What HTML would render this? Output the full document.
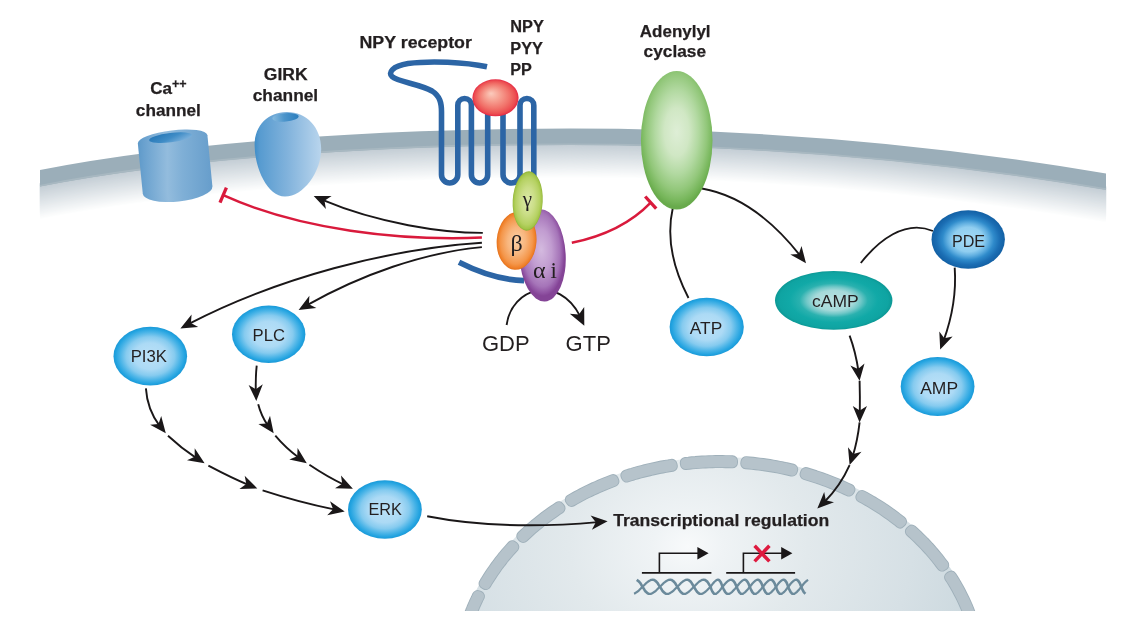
<!DOCTYPE html>
<html lang="en"><head><meta charset="utf-8"><title>NPY receptor signalling</title>
<style>html,body{margin:0;padding:0;background:#fff}svg{display:block;will-change:transform}text{font-family:"Liberation Sans",Arial,Helvetica,sans-serif;fill:#231f20}.b{font-weight:bold;font-size:16.8px;stroke:#231f20;stroke-width:0.25px}.r{font-size:17px}.g{font-family:"Liberation Serif","DejaVu Serif",serif;font-style:normal}</style></head><body>
<svg width="1146" height="634" viewBox="0 0 1146 634">
<defs>
<radialGradient id="gCy" cx="50%" cy="50%" r="50%"><stop offset="0" stop-color="#bbe1f7"/><stop offset="0.45" stop-color="#acdaf5"/><stop offset="0.66" stop-color="#86cbef"/><stop offset="0.82" stop-color="#4ab4e7"/><stop offset="0.94" stop-color="#22a3e0"/><stop offset="1" stop-color="#1c99d7"/></radialGradient>
<radialGradient id="gPde" cx="50%" cy="50%" r="50%"><stop offset="0" stop-color="#a4d8f4"/><stop offset="0.42" stop-color="#90cef0"/><stop offset="0.56" stop-color="#62b0e1"/><stop offset="0.7" stop-color="#2f8bcb"/><stop offset="0.86" stop-color="#1b6eb4"/><stop offset="1" stop-color="#1360a4"/></radialGradient>
<radialGradient id="gCamp" cx="50%" cy="50%" r="50%"><stop offset="0" stop-color="#b9e2e2"/><stop offset="0.34" stop-color="#a6dada"/><stop offset="0.46" stop-color="#72c8c8"/><stop offset="0.58" stop-color="#2ab1af"/><stop offset="0.75" stop-color="#11a9a7"/><stop offset="0.93" stop-color="#0fa4a2"/><stop offset="1" stop-color="#0c9895"/></radialGradient>
<radialGradient id="gAc" cx="50%" cy="44%" r="54%"><stop offset="0" stop-color="#deeed6"/><stop offset="0.32" stop-color="#d0e7c4"/><stop offset="0.56" stop-color="#b2d9a1"/><stop offset="0.78" stop-color="#92c77a"/><stop offset="0.93" stop-color="#76b65a"/><stop offset="1" stop-color="#68aa4c"/></radialGradient>
<radialGradient id="gRed" cx="50%" cy="50%" r="50%" fx="40%" fy="38%"><stop offset="0" stop-color="#fbcbbd"/><stop offset="0.3" stop-color="#f7a596"/><stop offset="0.68" stop-color="#f17169"/><stop offset="0.9" stop-color="#ec4c50"/><stop offset="1" stop-color="#e52a44"/></radialGradient>
<radialGradient id="gGam" cx="50%" cy="50%" r="50%"><stop offset="0" stop-color="#dbe9a8"/><stop offset="0.45" stop-color="#cbde88"/><stop offset="0.8" stop-color="#b5d162"/><stop offset="0.94" stop-color="#a3c548"/><stop offset="1" stop-color="#8eb036"/></radialGradient>
<radialGradient id="gBet" cx="50%" cy="50%" r="50%"><stop offset="0" stop-color="#fbcfa4"/><stop offset="0.45" stop-color="#f8b67e"/><stop offset="0.8" stop-color="#f4964a"/><stop offset="0.94" stop-color="#ef7f28"/><stop offset="1" stop-color="#e2711c"/></radialGradient>
<radialGradient id="gAlp" cx="48%" cy="44%" r="50%"><stop offset="0" stop-color="#d4badf"/><stop offset="0.45" stop-color="#c19cd0"/><stop offset="0.8" stop-color="#a574b8"/><stop offset="0.94" stop-color="#8f52a2"/><stop offset="1" stop-color="#844496"/></radialGradient>
<radialGradient id="gNuc" cx="44%" cy="20%" r="56%"><stop offset="0" stop-color="#f8fafb"/><stop offset="0.12" stop-color="#eff3f5"/><stop offset="0.4" stop-color="#e2e9ec"/><stop offset="0.75" stop-color="#d6e0e5"/><stop offset="1" stop-color="#cbd8de"/></radialGradient>
<linearGradient id="gGirk" x1="0" y1="0" x2="1" y2="0"><stop offset="0" stop-color="#3f8dc8"/><stop offset="0.08" stop-color="#579bd0"/><stop offset="0.5" stop-color="#82b3dc"/><stop offset="1" stop-color="#b9d5ed"/></linearGradient>
<linearGradient id="gCa" gradientUnits="userSpaceOnUse" x1="137" y1="0" x2="213" y2="0"><stop offset="0" stop-color="#5c98c8"/><stop offset="0.1" stop-color="#6ba2cf"/><stop offset="0.4" stop-color="#93bcdd"/><stop offset="0.6" stop-color="#7fafd6"/><stop offset="1" stop-color="#669dcb"/></linearGradient>
<linearGradient id="gPore" x1="0" y1="0" x2="1" y2="0.6"><stop offset="0" stop-color="#1f72b3"/><stop offset="0.6" stop-color="#3f8cc6"/><stop offset="1" stop-color="#77aeda"/></linearGradient>
<linearGradient id="gPore2" x1="0" y1="0" x2="1" y2="0"><stop offset="0" stop-color="#86badf"/><stop offset="0.45" stop-color="#4d95cb"/><stop offset="1" stop-color="#2a7dbd"/></linearGradient>
<clipPath id="cl"><rect x="0" y="0" width="1146" height="611"/></clipPath>
</defs>
<rect width="1146" height="634" fill="#fff"/>
<g fill="none" stroke-width="4">
<path d="M40.0,218.01 A700,119.7 0 0 1 570.0,176.50 A2000,1227 0 0 1 1106.0,221.40" stroke="#ffffff"/>
<path d="M40.0,217.01 A700,119.7 0 0 1 570.0,175.50 A2000,1227 0 0 1 1106.0,220.40" stroke="#fdfefe"/>
<path d="M40.0,216.01 A700,119.7 0 0 1 570.0,174.50 A2000,1227 0 0 1 1106.0,219.40" stroke="#fbfcfc"/>
<path d="M40.0,215.01 A700,119.7 0 0 1 570.0,173.50 A2000,1227 0 0 1 1106.0,218.40" stroke="#fafbfb"/>
<path d="M40.0,214.01 A700,119.7 0 0 1 570.0,172.50 A2000,1227 0 0 1 1106.0,217.40" stroke="#f8f9fa"/>
<path d="M40.0,213.01 A700,119.7 0 0 1 570.0,171.50 A2000,1227 0 0 1 1106.0,216.40" stroke="#f6f8f9"/>
<path d="M40.0,212.01 A700,119.7 0 0 1 570.0,170.50 A2000,1227 0 0 1 1106.0,215.40" stroke="#f4f6f7"/>
<path d="M40.0,211.01 A700,119.7 0 0 1 570.0,169.50 A2000,1227 0 0 1 1106.0,214.40" stroke="#f2f5f6"/>
<path d="M40.0,210.01 A700,119.7 0 0 1 570.0,168.50 A2000,1227 0 0 1 1106.0,213.40" stroke="#f1f3f5"/>
<path d="M40.0,209.01 A700,119.7 0 0 1 570.0,167.50 A2000,1227 0 0 1 1106.0,212.40" stroke="#eff2f4"/>
<path d="M40.0,208.01 A700,119.7 0 0 1 570.0,166.50 A2000,1227 0 0 1 1106.0,211.40" stroke="#edf0f2"/>
<path d="M40.0,207.01 A700,119.7 0 0 1 570.0,165.50 A2000,1227 0 0 1 1106.0,210.40" stroke="#ebeff1"/>
<path d="M40.0,206.01 A700,119.7 0 0 1 570.0,164.50 A2000,1227 0 0 1 1106.0,209.40" stroke="#eaedf0"/>
<path d="M40.0,205.01 A700,119.7 0 0 1 570.0,163.50 A2000,1227 0 0 1 1106.0,208.40" stroke="#e8ecee"/>
<path d="M40.0,204.01 A700,119.7 0 0 1 570.0,162.50 A2000,1227 0 0 1 1106.0,207.40" stroke="#e6eaed"/>
<path d="M40.0,203.01 A700,119.7 0 0 1 570.0,161.50 A2000,1227 0 0 1 1106.0,206.40" stroke="#e4e9ec"/>
<path d="M40.0,202.01 A700,119.7 0 0 1 570.0,160.50 A2000,1227 0 0 1 1106.0,205.40" stroke="#e2e7eb"/>
<path d="M40.0,201.01 A700,119.7 0 0 1 570.0,159.50 A2000,1227 0 0 1 1106.0,204.40" stroke="#e1e6e9"/>
<path d="M40.0,200.01 A700,119.7 0 0 1 570.0,158.50 A2000,1227 0 0 1 1106.0,203.40" stroke="#dfe4e8"/>
<path d="M40.0,199.01 A700,119.7 0 0 1 570.0,157.50 A2000,1227 0 0 1 1106.0,202.40" stroke="#dde3e7"/>
<path d="M40.0,198.01 A700,119.7 0 0 1 570.0,156.50 A2000,1227 0 0 1 1106.0,201.40" stroke="#dbe1e6"/>
<path d="M40.0,197.01 A700,119.7 0 0 1 570.0,155.50 A2000,1227 0 0 1 1106.0,200.40" stroke="#d9e0e4"/>
<path d="M40.0,196.01 A700,119.7 0 0 1 570.0,154.50 A2000,1227 0 0 1 1106.0,199.40" stroke="#d8dee3"/>
<path d="M40.0,195.01 A700,119.7 0 0 1 570.0,153.50 A2000,1227 0 0 1 1106.0,198.40" stroke="#d6dde2"/>
<path d="M40.0,194.01 A700,119.7 0 0 1 570.0,152.50 A2000,1227 0 0 1 1106.0,197.40" stroke="#d4dbe0"/>
<path d="M40.0,193.01 A700,119.7 0 0 1 570.0,151.50 A2000,1227 0 0 1 1106.0,196.40" stroke="#d2dadf"/>
<path d="M40.0,192.01 A700,119.7 0 0 1 570.0,150.50 A2000,1227 0 0 1 1106.0,195.40" stroke="#d1d8de"/>
<path d="M40.0,191.01 A700,119.7 0 0 1 570.0,149.50 A2000,1227 0 0 1 1106.0,194.40" stroke="#cfd7dd"/>
<path d="M40.0,190.01 A700,119.7 0 0 1 570.0,148.50 A2000,1227 0 0 1 1106.0,193.40" stroke="#cdd5db"/>
<path d="M40.0,189.01 A700,119.7 0 0 1 570.0,147.50 A2000,1227 0 0 1 1106.0,192.40" stroke="#cbd4da"/>
<path d="M40.0,188.01 A700,119.7 0 0 1 570.0,146.50 A2000,1227 0 0 1 1106.0,191.40" stroke="#c9d2d9"/>
<path d="M40.0,187.01 A700,119.7 0 0 1 570.0,145.50 A2000,1227 0 0 1 1106.0,190.40" stroke="#c8d1d8"/>
<path d="M40.0,186.01 A700,119.7 0 0 1 570.0,144.50 A2000,1227 0 0 1 1106.0,189.40" stroke="#c6cfd6"/>
<path d="M40.0,185.01 A700,119.7 0 0 1 570.0,143.50 A2000,1227 0 0 1 1106.0,188.40" stroke="#c4ced5"/>
</g>
<path d="M40.0,170.01 A700,119.7 0 0 1 570.0,128.50 A2000,1227 0 0 1 1106.0,173.40 L1106.0,189.80 A2000,1227 0 0 0 570.0,144.90 A700,119.7 0 0 0 40.0,186.41 Z" fill="#9baeb9"/>
<path d="M40.0,185.71 A700,119.7 0 0 1 570.0,144.20 A2000,1227 0 0 1 1106.0,189.10" stroke="#a8b8c1" stroke-width="1.6" fill="none"/>
<g clip-path="url(#cl)">
<ellipse cx="720.0" cy="680.4" rx="266.5" ry="223.5" fill="url(#gNuc)"/>
<path d="M458.4,700.4 L458.1,697.1 L457.8,693.7 L457.6,690.3 L457.4,687.0 L457.3,683.6 L457.3,680.2 L457.3,676.9 L457.4,673.5 L457.6,670.1 L457.8,666.8 L458.1,663.4 L458.4,660.1 L458.8,656.7 L459.3,653.4 L461.1,653.6 L460.6,656.9 L460.2,660.2 L459.9,663.5 L459.6,666.9 L459.4,670.2 L459.2,673.6 L459.1,676.9 L459.1,680.2 L459.1,683.6 L459.2,686.9 L459.4,690.3 L459.6,693.6 L459.9,696.9 L460.2,700.3Z M461.8,639.9 L462.6,636.7 L463.4,633.4 L464.3,630.1 L465.2,626.9 L466.2,623.7 L467.3,620.5 L468.4,617.3 L469.5,614.1 L470.8,611.0 L472.0,607.9 L473.4,604.8 L474.7,601.7 L476.2,598.7 L477.6,595.6 L479.3,596.3 L477.8,599.3 L476.4,602.3 L475.0,605.4 L473.7,608.5 L472.5,611.6 L471.2,614.7 L470.1,617.8 L469.0,621.0 L467.9,624.2 L467.0,627.3 L466.0,630.6 L465.1,633.8 L464.3,637.0 L463.6,640.3Z M484.2,583.6 L485.9,580.7 L487.7,577.9 L489.5,575.0 L491.3,572.2 L493.3,569.4 L495.2,566.7 L497.2,564.0 L499.2,561.3 L501.3,558.7 L503.4,556.0 L505.6,553.4 L507.8,550.9 L510.0,548.4 L512.3,545.9 L513.7,547.0 L511.5,549.4 L509.3,551.9 L507.1,554.5 L504.9,557.0 L502.8,559.6 L500.8,562.3 L498.7,564.9 L496.8,567.6 L494.8,570.4 L492.9,573.1 L491.1,575.9 L489.3,578.7 L487.5,581.5 L485.8,584.4Z M521.9,536.1 L524.3,533.8 L526.8,531.5 L529.3,529.3 L531.8,527.1 L534.4,524.9 L537.0,522.8 L539.7,520.7 L542.3,518.6 L545.0,516.5 L547.7,514.5 L550.4,512.6 L553.2,510.7 L556.0,508.8 L558.8,506.9 L559.9,508.3 L557.1,510.2 L554.4,512.1 L551.6,514.0 L548.9,515.9 L546.2,517.9 L543.5,519.9 L540.9,522.0 L538.3,524.1 L535.7,526.2 L533.1,528.3 L530.6,530.5 L528.1,532.8 L525.7,535.0 L523.2,537.3Z M570.4,499.8 L573.4,498.1 L576.3,496.5 L579.3,494.9 L582.3,493.3 L585.3,491.8 L588.3,490.3 L591.3,488.9 L594.4,487.4 L597.5,486.1 L600.6,484.7 L603.7,483.4 L606.8,482.1 L609.9,480.9 L613.1,479.7 L613.8,481.4 L610.7,482.6 L607.6,483.8 L604.5,485.0 L601.4,486.3 L598.3,487.7 L595.3,489.0 L592.2,490.4 L589.2,491.9 L586.2,493.3 L583.2,494.8 L580.3,496.4 L577.3,498.0 L574.4,499.6 L571.5,501.3Z M626.0,475.3 L629.2,474.2 L632.4,473.3 L635.6,472.3 L638.9,471.4 L642.1,470.6 L645.4,469.7 L648.7,468.9 L652.0,468.2 L655.3,467.5 L658.6,466.8 L661.9,466.1 L665.2,465.5 L668.5,465.0 L671.8,464.4 L672.2,466.2 L668.9,466.7 L665.6,467.3 L662.3,467.9 L659.0,468.5 L655.7,469.2 L652.4,469.9 L649.2,470.7 L645.9,471.5 L642.7,472.3 L639.4,473.1 L636.2,474.0 L633.0,475.0 L629.8,475.9 L626.6,476.9Z M685.4,462.6 L688.7,462.3 L692.1,461.9 L695.4,461.7 L698.8,461.4 L702.1,461.2 L705.5,461.0 L708.9,460.9 L712.2,460.8 L715.6,460.7 L719.0,460.7 L722.3,460.7 L725.7,460.8 L729.1,460.8 L732.4,460.9 L732.4,462.7 L729.0,462.6 L725.7,462.6 L722.3,462.5 L719.0,462.5 L715.6,462.5 L712.3,462.6 L708.9,462.7 L705.6,462.8 L702.3,463.0 L698.9,463.2 L695.6,463.5 L692.2,463.7 L688.9,464.1 L685.6,464.4Z M746.1,461.8 L749.4,462.1 L752.8,462.4 L756.1,462.8 L759.5,463.2 L762.8,463.6 L766.1,464.1 L769.5,464.6 L772.8,465.2 L776.1,465.8 L779.4,466.4 L782.7,467.1 L786.0,467.7 L789.3,468.5 L792.6,469.3 L792.1,471.0 L788.8,470.2 L785.6,469.5 L782.3,468.8 L779.0,468.1 L775.7,467.5 L772.4,466.9 L769.1,466.4 L765.8,465.9 L762.5,465.4 L759.2,465.0 L755.9,464.6 L752.5,464.2 L749.2,463.9 L745.9,463.6Z M805.8,472.7 L809.0,473.7 L812.2,474.7 L815.4,475.7 L818.6,476.8 L821.8,477.9 L825.0,479.0 L828.1,480.2 L831.3,481.4 L834.4,482.6 L837.5,483.9 L840.6,485.2 L843.7,486.6 L846.8,488.0 L849.8,489.4 L848.9,491.0 L845.9,489.6 L842.9,488.2 L839.8,486.8 L836.7,485.5 L833.6,484.3 L830.5,483.0 L827.4,481.8 L824.3,480.7 L821.1,479.5 L818.0,478.4 L814.8,477.4 L811.6,476.4 L808.4,475.4 L805.2,474.4Z M862.0,495.6 L865.0,497.2 L867.9,498.8 L870.8,500.5 L873.7,502.2 L876.6,504.0 L879.4,505.8 L882.3,507.6 L885.1,509.5 L887.9,511.4 L890.6,513.3 L893.3,515.3 L896.0,517.3 L898.7,519.4 L901.4,521.5 L900.1,522.8 L897.5,520.7 L894.8,518.7 L892.2,516.7 L889.4,514.7 L886.7,512.8 L883.9,510.9 L881.2,509.0 L878.4,507.2 L875.5,505.4 L872.7,503.7 L869.8,502.0 L866.9,500.3 L864.0,498.7 L861.0,497.1Z M911.8,530.3 L914.3,532.5 L916.8,534.8 L919.2,537.2 L921.6,539.5 L924.0,541.9 L926.3,544.4 L928.6,546.8 L930.8,549.3 L933.1,551.9 L935.2,554.4 L937.4,557.0 L939.5,559.7 L941.5,562.3 L943.6,565.0 L942.0,566.0 L940.0,563.3 L938.0,560.7 L935.9,558.1 L933.8,555.5 L931.6,552.9 L929.4,550.4 L927.1,547.9 L924.9,545.5 L922.6,543.1 L920.2,540.7 L917.8,538.3 L915.4,536.0 L913.0,533.7 L910.5,531.5Z M951.3,576.3 L953.1,579.1 L954.9,582.0 L956.6,584.9 L958.2,587.8 L959.9,590.8 L961.4,593.8 L962.9,596.8 L964.4,599.8 L965.8,602.9 L967.2,606.0 L968.5,609.1 L969.7,612.2 L970.9,615.4 L972.1,618.5 L970.3,619.0 L969.2,615.9 L968.0,612.8 L966.8,609.7 L965.5,606.6 L964.1,603.5 L962.7,600.5 L961.3,597.5 L959.8,594.5 L958.2,591.5 L956.6,588.6 L955.0,585.7 L953.3,582.8 L951.5,579.9 L949.7,577.1Z M976.1,631.6 L977.0,634.8 L977.8,638.1 L978.5,641.4 L979.2,644.7 L979.8,648.0 L980.4,651.3 L980.9,654.7 L981.3,658.0 L981.7,661.4 L982.0,664.7 L982.3,668.1 L982.5,671.4 L982.6,674.8 L982.7,678.2 L980.9,678.2 L980.8,674.8 L980.7,671.5 L980.5,668.2 L980.2,664.8 L979.9,661.5 L979.5,658.2 L979.1,654.9 L978.6,651.6 L978.0,648.3 L977.4,645.0 L976.8,641.7 L976.0,638.4 L975.2,635.2 L974.4,632.0Z M982.3,691.8 L982.1,695.2 L981.8,698.5 L981.4,701.9 L981.0,705.2 L980.5,708.6 L980.0,711.9 L979.4,715.2 L978.7,718.5 L978.0,721.8 L977.2,725.1 L976.4,728.4 L975.5,731.6 L974.5,734.8 L973.5,738.0 L971.8,737.6 L972.8,734.4 L973.7,731.2 L974.6,728.0 L975.4,724.7 L976.2,721.5 L976.9,718.2 L977.6,714.9 L978.2,711.6 L978.7,708.3 L979.2,705.0 L979.6,701.7 L980.0,698.4 L980.3,695.1 L980.5,691.7Z" fill="#9fb0ba" stroke="#9fb0ba" stroke-width="11.2" stroke-linejoin="round"/>
<path d="M458.4,700.4 L458.1,697.1 L457.8,693.7 L457.6,690.3 L457.4,687.0 L457.3,683.6 L457.3,680.2 L457.3,676.9 L457.4,673.5 L457.6,670.1 L457.8,666.8 L458.1,663.4 L458.4,660.1 L458.8,656.7 L459.3,653.4 L461.1,653.6 L460.6,656.9 L460.2,660.2 L459.9,663.5 L459.6,666.9 L459.4,670.2 L459.2,673.6 L459.1,676.9 L459.1,680.2 L459.1,683.6 L459.2,686.9 L459.4,690.3 L459.6,693.6 L459.9,696.9 L460.2,700.3Z M461.8,639.9 L462.6,636.7 L463.4,633.4 L464.3,630.1 L465.2,626.9 L466.2,623.7 L467.3,620.5 L468.4,617.3 L469.5,614.1 L470.8,611.0 L472.0,607.9 L473.4,604.8 L474.7,601.7 L476.2,598.7 L477.6,595.6 L479.3,596.3 L477.8,599.3 L476.4,602.3 L475.0,605.4 L473.7,608.5 L472.5,611.6 L471.2,614.7 L470.1,617.8 L469.0,621.0 L467.9,624.2 L467.0,627.3 L466.0,630.6 L465.1,633.8 L464.3,637.0 L463.6,640.3Z M484.2,583.6 L485.9,580.7 L487.7,577.9 L489.5,575.0 L491.3,572.2 L493.3,569.4 L495.2,566.7 L497.2,564.0 L499.2,561.3 L501.3,558.7 L503.4,556.0 L505.6,553.4 L507.8,550.9 L510.0,548.4 L512.3,545.9 L513.7,547.0 L511.5,549.4 L509.3,551.9 L507.1,554.5 L504.9,557.0 L502.8,559.6 L500.8,562.3 L498.7,564.9 L496.8,567.6 L494.8,570.4 L492.9,573.1 L491.1,575.9 L489.3,578.7 L487.5,581.5 L485.8,584.4Z M521.9,536.1 L524.3,533.8 L526.8,531.5 L529.3,529.3 L531.8,527.1 L534.4,524.9 L537.0,522.8 L539.7,520.7 L542.3,518.6 L545.0,516.5 L547.7,514.5 L550.4,512.6 L553.2,510.7 L556.0,508.8 L558.8,506.9 L559.9,508.3 L557.1,510.2 L554.4,512.1 L551.6,514.0 L548.9,515.9 L546.2,517.9 L543.5,519.9 L540.9,522.0 L538.3,524.1 L535.7,526.2 L533.1,528.3 L530.6,530.5 L528.1,532.8 L525.7,535.0 L523.2,537.3Z M570.4,499.8 L573.4,498.1 L576.3,496.5 L579.3,494.9 L582.3,493.3 L585.3,491.8 L588.3,490.3 L591.3,488.9 L594.4,487.4 L597.5,486.1 L600.6,484.7 L603.7,483.4 L606.8,482.1 L609.9,480.9 L613.1,479.7 L613.8,481.4 L610.7,482.6 L607.6,483.8 L604.5,485.0 L601.4,486.3 L598.3,487.7 L595.3,489.0 L592.2,490.4 L589.2,491.9 L586.2,493.3 L583.2,494.8 L580.3,496.4 L577.3,498.0 L574.4,499.6 L571.5,501.3Z M626.0,475.3 L629.2,474.2 L632.4,473.3 L635.6,472.3 L638.9,471.4 L642.1,470.6 L645.4,469.7 L648.7,468.9 L652.0,468.2 L655.3,467.5 L658.6,466.8 L661.9,466.1 L665.2,465.5 L668.5,465.0 L671.8,464.4 L672.2,466.2 L668.9,466.7 L665.6,467.3 L662.3,467.9 L659.0,468.5 L655.7,469.2 L652.4,469.9 L649.2,470.7 L645.9,471.5 L642.7,472.3 L639.4,473.1 L636.2,474.0 L633.0,475.0 L629.8,475.9 L626.6,476.9Z M685.4,462.6 L688.7,462.3 L692.1,461.9 L695.4,461.7 L698.8,461.4 L702.1,461.2 L705.5,461.0 L708.9,460.9 L712.2,460.8 L715.6,460.7 L719.0,460.7 L722.3,460.7 L725.7,460.8 L729.1,460.8 L732.4,460.9 L732.4,462.7 L729.0,462.6 L725.7,462.6 L722.3,462.5 L719.0,462.5 L715.6,462.5 L712.3,462.6 L708.9,462.7 L705.6,462.8 L702.3,463.0 L698.9,463.2 L695.6,463.5 L692.2,463.7 L688.9,464.1 L685.6,464.4Z M746.1,461.8 L749.4,462.1 L752.8,462.4 L756.1,462.8 L759.5,463.2 L762.8,463.6 L766.1,464.1 L769.5,464.6 L772.8,465.2 L776.1,465.8 L779.4,466.4 L782.7,467.1 L786.0,467.7 L789.3,468.5 L792.6,469.3 L792.1,471.0 L788.8,470.2 L785.6,469.5 L782.3,468.8 L779.0,468.1 L775.7,467.5 L772.4,466.9 L769.1,466.4 L765.8,465.9 L762.5,465.4 L759.2,465.0 L755.9,464.6 L752.5,464.2 L749.2,463.9 L745.9,463.6Z M805.8,472.7 L809.0,473.7 L812.2,474.7 L815.4,475.7 L818.6,476.8 L821.8,477.9 L825.0,479.0 L828.1,480.2 L831.3,481.4 L834.4,482.6 L837.5,483.9 L840.6,485.2 L843.7,486.6 L846.8,488.0 L849.8,489.4 L848.9,491.0 L845.9,489.6 L842.9,488.2 L839.8,486.8 L836.7,485.5 L833.6,484.3 L830.5,483.0 L827.4,481.8 L824.3,480.7 L821.1,479.5 L818.0,478.4 L814.8,477.4 L811.6,476.4 L808.4,475.4 L805.2,474.4Z M862.0,495.6 L865.0,497.2 L867.9,498.8 L870.8,500.5 L873.7,502.2 L876.6,504.0 L879.4,505.8 L882.3,507.6 L885.1,509.5 L887.9,511.4 L890.6,513.3 L893.3,515.3 L896.0,517.3 L898.7,519.4 L901.4,521.5 L900.1,522.8 L897.5,520.7 L894.8,518.7 L892.2,516.7 L889.4,514.7 L886.7,512.8 L883.9,510.9 L881.2,509.0 L878.4,507.2 L875.5,505.4 L872.7,503.7 L869.8,502.0 L866.9,500.3 L864.0,498.7 L861.0,497.1Z M911.8,530.3 L914.3,532.5 L916.8,534.8 L919.2,537.2 L921.6,539.5 L924.0,541.9 L926.3,544.4 L928.6,546.8 L930.8,549.3 L933.1,551.9 L935.2,554.4 L937.4,557.0 L939.5,559.7 L941.5,562.3 L943.6,565.0 L942.0,566.0 L940.0,563.3 L938.0,560.7 L935.9,558.1 L933.8,555.5 L931.6,552.9 L929.4,550.4 L927.1,547.9 L924.9,545.5 L922.6,543.1 L920.2,540.7 L917.8,538.3 L915.4,536.0 L913.0,533.7 L910.5,531.5Z M951.3,576.3 L953.1,579.1 L954.9,582.0 L956.6,584.9 L958.2,587.8 L959.9,590.8 L961.4,593.8 L962.9,596.8 L964.4,599.8 L965.8,602.9 L967.2,606.0 L968.5,609.1 L969.7,612.2 L970.9,615.4 L972.1,618.5 L970.3,619.0 L969.2,615.9 L968.0,612.8 L966.8,609.7 L965.5,606.6 L964.1,603.5 L962.7,600.5 L961.3,597.5 L959.8,594.5 L958.2,591.5 L956.6,588.6 L955.0,585.7 L953.3,582.8 L951.5,579.9 L949.7,577.1Z M976.1,631.6 L977.0,634.8 L977.8,638.1 L978.5,641.4 L979.2,644.7 L979.8,648.0 L980.4,651.3 L980.9,654.7 L981.3,658.0 L981.7,661.4 L982.0,664.7 L982.3,668.1 L982.5,671.4 L982.6,674.8 L982.7,678.2 L980.9,678.2 L980.8,674.8 L980.7,671.5 L980.5,668.2 L980.2,664.8 L979.9,661.5 L979.5,658.2 L979.1,654.9 L978.6,651.6 L978.0,648.3 L977.4,645.0 L976.8,641.7 L976.0,638.4 L975.2,635.2 L974.4,632.0Z M982.3,691.8 L982.1,695.2 L981.8,698.5 L981.4,701.9 L981.0,705.2 L980.5,708.6 L980.0,711.9 L979.4,715.2 L978.7,718.5 L978.0,721.8 L977.2,725.1 L976.4,728.4 L975.5,731.6 L974.5,734.8 L973.5,738.0 L971.8,737.6 L972.8,734.4 L973.7,731.2 L974.6,728.0 L975.4,724.7 L976.2,721.5 L976.9,718.2 L977.6,714.9 L978.2,711.6 L978.7,708.3 L979.2,705.0 L979.6,701.7 L980.0,698.4 L980.3,695.1 L980.5,691.7Z" fill="#b6c3cb" stroke="#b6c3cb" stroke-width="9.4" stroke-linejoin="round"/>
</g>
<g transform="translate(0,586.8) skewX(-11) translate(0,-586.8)" fill="none" stroke="#6b8a9b" stroke-width="2.4" stroke-linejoin="round">
<path d="M635.4,593.7 L636.8,592.9 L638.2,591.8 L639.7,590.3 L641.1,588.6 L642.5,586.8 L644.0,585.0 L645.4,583.2 L646.9,581.8 L648.3,580.7 L649.8,579.9 L651.2,579.7 L652.6,579.9 L654.1,580.7 L655.5,581.8 L657.0,583.2 L658.4,585.0 L659.9,586.8 L661.4,588.6 L662.8,590.3 L664.3,591.8 L665.7,592.9 L667.2,593.7 L668.6,593.9 L670.1,593.7 L671.6,592.9 L673.0,591.8 L674.5,590.3 L675.9,588.6 L677.4,586.8 L678.8,585.0 L680.1,583.2 L681.5,581.8 L682.9,580.7 L684.3,579.9 L685.6,579.7 L687.0,579.9 L688.4,580.7 L689.8,581.8 L691.1,583.2 L692.5,585.0 L693.9,586.8 L695.3,588.6 L696.7,590.3 L698.0,591.8 L699.4,592.9 L700.8,593.7 L702.2,593.9 L703.6,593.7 L705.0,592.9 L706.4,591.8 L707.7,590.3 L709.1,588.6 L710.5,586.8 L711.5,585.0 L712.5,583.2 L713.5,581.8 L714.5,580.7 L715.5,579.9 L716.5,579.7 L717.5,579.9 L718.5,580.7 L719.5,581.8 L720.5,583.2 L721.5,585.0 L722.5,586.8 L723.7,588.6 L724.9,590.3 L726.0,591.8 L727.2,592.9 L728.4,593.7 L729.6,593.9 L730.8,593.7 L732.0,592.9 L733.2,591.8 L734.3,590.3 L735.5,588.6 L736.7,586.8 L737.8,585.0 L738.9,583.2 L740.0,581.8 L741.1,580.7 L742.2,579.9 L743.2,579.7 L744.3,579.9 L745.4,580.7 L746.5,581.8 L747.6,583.2 L748.7,585.0 L749.8,586.8 L750.9,588.6 L752.0,590.3 L753.1,591.8 L754.2,592.9 L755.3,593.7 L756.3,593.9 L757.4,593.7 L758.5,592.9 L759.6,591.8 L760.7,590.3 L761.8,588.6 L762.9,586.8 L764.0,585.0 L765.1,583.2 L766.2,581.8 L767.3,580.7 L768.4,579.9 L769.5,579.7 L770.5,579.9 L771.6,580.7 L772.7,581.8 L773.8,583.2 L774.9,585.0 L776.0,586.8 L777.0,588.6 L778.0,590.3 L779.0,591.8 L780.1,592.9 L781.1,593.7 L782.1,593.9 L783.1,593.7 L784.1,592.9 L785.2,591.8 L786.2,590.3 L787.2,588.6 L788.2,586.8 L789.3,585.0 L790.4,583.2 L791.5,581.8 L792.6,580.7 L793.7,579.9 L794.8,579.7 L795.8,579.9 L796.9,580.7 L798.0,581.8 L799.1,583.2 L800.2,585.0 L801.3,586.8 L802.4,588.6 L803.5,590.3 L804.6,591.8 L805.7,592.9 L806.8,593.7"/>
<path d="M635.4,579.9 L636.8,580.7 L638.2,581.8 L639.7,583.2 L641.1,585.0 L642.5,586.8 L644.0,588.6 L645.4,590.3 L646.9,591.8 L648.3,592.9 L649.8,593.7 L651.2,593.9 L652.6,593.7 L654.1,592.9 L655.5,591.8 L657.0,590.3 L658.4,588.6 L659.9,586.8 L661.4,585.0 L662.8,583.2 L664.3,581.8 L665.7,580.7 L667.2,579.9 L668.6,579.7 L670.1,579.9 L671.6,580.7 L673.0,581.8 L674.5,583.2 L675.9,585.0 L677.4,586.8 L678.8,588.6 L680.1,590.3 L681.5,591.8 L682.9,592.9 L684.3,593.7 L685.6,593.9 L687.0,593.7 L688.4,592.9 L689.8,591.8 L691.1,590.3 L692.5,588.6 L693.9,586.8 L695.3,585.0 L696.7,583.2 L698.0,581.8 L699.4,580.7 L700.8,579.9 L702.2,579.7 L703.6,579.9 L705.0,580.7 L706.4,581.8 L707.7,583.2 L709.1,585.0 L710.5,586.8 L711.5,588.6 L712.5,590.3 L713.5,591.8 L714.5,592.9 L715.5,593.7 L716.5,593.9 L717.5,593.7 L718.5,592.9 L719.5,591.8 L720.5,590.3 L721.5,588.6 L722.5,586.8 L723.7,585.0 L724.9,583.2 L726.0,581.8 L727.2,580.7 L728.4,579.9 L729.6,579.7 L730.8,579.9 L732.0,580.7 L733.2,581.8 L734.3,583.2 L735.5,585.0 L736.7,586.8 L737.8,588.6 L738.9,590.3 L740.0,591.8 L741.1,592.9 L742.2,593.7 L743.2,593.9 L744.3,593.7 L745.4,592.9 L746.5,591.8 L747.6,590.3 L748.7,588.6 L749.8,586.8 L750.9,585.0 L752.0,583.2 L753.1,581.8 L754.2,580.7 L755.3,579.9 L756.3,579.7 L757.4,579.9 L758.5,580.7 L759.6,581.8 L760.7,583.2 L761.8,585.0 L762.9,586.8 L764.0,588.6 L765.1,590.3 L766.2,591.8 L767.3,592.9 L768.4,593.7 L769.5,593.9 L770.5,593.7 L771.6,592.9 L772.7,591.8 L773.8,590.3 L774.9,588.6 L776.0,586.8 L777.0,585.0 L778.0,583.2 L779.0,581.8 L780.1,580.7 L781.1,579.9 L782.1,579.7 L783.1,579.9 L784.1,580.7 L785.2,581.8 L786.2,583.2 L787.2,585.0 L788.2,586.8 L789.3,588.6 L790.4,590.3 L791.5,591.8 L792.6,592.9 L793.7,593.7 L794.8,593.9 L795.8,593.7 L796.9,592.9 L798.0,591.8 L799.1,590.3 L800.2,588.6 L801.3,586.8 L802.4,585.0 L803.5,583.2 L804.6,581.8 L805.7,580.7 L806.8,579.9"/>
</g>
<g stroke="#1a1718" stroke-width="1.6" fill="none">
<path d="M641.9,572.9 H711.4"/><path d="M659.4,572.9 V553.2 H700"/>
<path d="M726.2,572.9 H795.1"/><path d="M743.4,572.9 V553.2 H783"/>
</g>
<path d="M708.6,553.2 L697.4,547 V559.4 Z" fill="#1a1718"/>
<path d="M792.4,553.2 L781.2,547 V559.4 Z" fill="#1a1718"/>
<path d="M754.6,545.8 L769.4,561.4 M769.4,545.8 L754.6,561.4" stroke="#de1a3f" stroke-width="3.5" fill="none"/>
<path d="M482.8,232.9 C442.4,233.0 377.6,223.2 323.1,200.2" fill="none" stroke="#1a1718" stroke-width="1.90"/>
<path d="M313.7,196.1 L331.6,196.1 L324.5,200.8 L325.9,209.1 Z" fill="#1a1718"/>
<path d="M481.9,237.6 C400.0,241.0 300.0,230.0 223.2,195.2" fill="none" stroke="#d91a3c" stroke-width="2.50"/>
<path d="M226.4,187.7 L220.0,202.7" stroke="#d91a3c" stroke-width="3.30" fill="none"/>
<path d="M481.9,242.7 C388.4,248.8 278.0,277.9 189.9,323.4" fill="none" stroke="#1a1718" stroke-width="1.90"/>
<path d="M180.4,328.4 L191.6,314.5 L190.9,322.9 L198.2,327.1 Z" fill="#1a1718"/>
<path d="M481.9,247.1 C423.1,252.7 361.5,274.6 307.1,305.1" fill="none" stroke="#1a1718" stroke-width="1.90"/>
<path d="M298.6,310.0 L309.4,295.7 L308.9,304.2 L316.4,308.1 Z" fill="#1a1718"/>
<path d="M571.8,242.8 C605.0,236.0 632.0,222.0 650.7,202.6" fill="none" stroke="#d91a3c" stroke-width="2.50"/>
<path d="M656.2,208.7 L645.2,196.5" stroke="#d91a3c" stroke-width="3.30" fill="none"/>
<path d="M672.8,208.0 C666.0,238.0 674.0,270.0 688.5,298.0" fill="none" stroke="#1a1718" stroke-width="1.90"/>
<path d="M701.9,188.5 C741.8,195.4 774.7,223.3 800.0,255.3" fill="none" stroke="#1a1718" stroke-width="1.90"/>
<path d="M806.0,263.2 L790.3,254.6 L798.8,253.9 L801.5,245.9 Z" fill="#1a1718"/>
<path d="M860.8,263.0 C878.0,241.0 905.0,219.0 933.0,231.0" fill="none" stroke="#1a1718" stroke-width="1.90"/>
<path d="M954.7,267.6 C956.7,296.1 951.5,318.9 943.6,340.6" fill="none" stroke="#1a1718" stroke-width="1.90"/>
<path d="M940.2,349.4 L939.3,331.6 L944.3,338.3 L952.6,336.5 Z" fill="#1a1718"/>
<path d="M849.6,335.6 C853.9,347.1 856.7,359.0 858.5,371.4" fill="none" stroke="#1a1718" stroke-width="1.90"/>
<path d="M859.6,380.8 L850.4,365.5 L858.0,369.1 L864.5,363.6 Z" fill="#1a1718"/>
<path d="M859.6,380.8 C859.9,391.8 860.0,402.1 859.8,412.9" fill="none" stroke="#1a1718" stroke-width="1.90"/>
<path d="M859.6,422.4 L852.8,405.9 L859.8,410.6 L867.0,406.1 Z" fill="#1a1718"/>
<path d="M859.6,422.4 C858.3,433.9 856.2,445.0 852.8,456.0" fill="none" stroke="#1a1718" stroke-width="1.90"/>
<path d="M849.6,465.1 L848.0,447.3 L853.3,453.9 L861.5,451.7 Z" fill="#1a1718"/>
<path d="M849.6,465.1 C843.4,479.0 834.8,491.5 824.4,502.0" fill="none" stroke="#1a1718" stroke-width="1.90"/>
<path d="M817.3,508.5 L824.2,492.0 L825.8,500.3 L834.0,502.3 Z" fill="#1a1718"/>
<path d="M145.9,388.4 C146.8,402.7 151.6,415.2 159.6,425.9" fill="none" stroke="#1a1718" stroke-width="1.90"/>
<path d="M165.8,433.2 L150.1,424.8 L158.5,424.0 L161.2,415.9 Z" fill="#1a1718"/>
<path d="M168.0,435.7 C176.7,443.9 186.1,451.3 196.4,458.1" fill="none" stroke="#1a1718" stroke-width="1.90"/>
<path d="M204.6,463.2 L187.0,460.3 L194.7,456.8 L194.7,448.3 Z" fill="#1a1718"/>
<path d="M208.4,465.7 C221.3,472.5 234.4,479.2 248.3,484.9" fill="none" stroke="#1a1718" stroke-width="1.90"/>
<path d="M257.3,488.4 L239.4,488.9 L246.3,484.0 L244.7,475.7 Z" fill="#1a1718"/>
<path d="M262.6,490.3 C286.1,498.0 310.1,504.4 335.3,509.6" fill="none" stroke="#1a1718" stroke-width="1.90"/>
<path d="M344.7,511.5 L327.2,515.2 L333.1,509.2 L330.0,501.3 Z" fill="#1a1718"/>
<path d="M256.7,365.7 C255.8,374.0 255.6,382.7 255.8,391.5" fill="none" stroke="#1a1718" stroke-width="1.90"/>
<path d="M256.3,401.0 L248.6,384.9 L255.9,389.2 L262.8,384.3 Z" fill="#1a1718"/>
<path d="M258.2,404.2 C260.2,412.0 263.4,418.9 267.9,425.6" fill="none" stroke="#1a1718" stroke-width="1.90"/>
<path d="M273.7,433.2 L258.4,423.9 L266.9,423.6 L270.0,415.7 Z" fill="#1a1718"/>
<path d="M275.3,435.7 C282.1,443.8 289.8,451.1 298.9,457.8" fill="none" stroke="#1a1718" stroke-width="1.90"/>
<path d="M306.8,463.2 L289.3,459.5 L297.2,456.3 L297.6,447.9 Z" fill="#1a1718"/>
<path d="M309.4,464.8 C320.5,472.3 331.8,479.0 344.3,484.9" fill="none" stroke="#1a1718" stroke-width="1.90"/>
<path d="M352.9,488.8 L335.0,488.3 L342.2,483.8 L341.0,475.5 Z" fill="#1a1718"/>
<path d="M427.2,516.2 C481.8,526.9 542.9,527.0 598.0,522.1" fill="none" stroke="#1a1718" stroke-width="1.90"/>
<path d="M607.6,521.2 L591.9,529.8 L595.8,522.3 L590.6,515.6 Z" fill="#1a1718"/>
<path d="M506.6,325.0 C511.6,287.6 558.3,273.8 580.1,316.1" fill="none" stroke="#1a1718" stroke-width="1.90"/>
<path d="M584.3,325.7 L569.8,313.8 L578.9,314.4 L584.2,306.9 Z" fill="#1a1718"/>
<path d="M487,66.8 C465,62 430,60.5 408,63.5 C392,66 388,73 392,76.5 C398,82 420,84 432,91 C440,96 441.5,103 441.5,112 V174.8 A8.15,8.15 0 0 0 457.8,174.8 V105.3 A6.80,6.80 0 0 1 471.4,105.3 V174.8 A8.15,8.15 0 0 0 487.7,174.8 V106.2 A7.65,7.65 0 0 1 503.0,106.2 V174.5 A8.50,8.50 0 0 0 520.0,174.5 V105.4 A6.90,6.90 0 0 1 533.8,105.4 V200.0" fill="none" stroke="#2c65a5" stroke-width="5.6" stroke-linecap="butt"/>
<path d="M459,262.3 C480,273 500,280 524,280.6" fill="none" stroke="#2c65a5" stroke-width="5.6"/>
<ellipse cx="495.5" cy="97.8" rx="23.1" ry="18.5" fill="url(#gRed)"/>
<ellipse cx="542.5" cy="255.3" rx="23.2" ry="46.2" fill="url(#gAlp)" transform="rotate(-3 542.5 255.3)"/>
<ellipse cx="516.6" cy="240.8" rx="19.9" ry="29.1" fill="url(#gBet)" transform="rotate(4 516.6 240.8)"/>
<ellipse cx="527.7" cy="201" rx="15" ry="29.7" fill="url(#gGam)" transform="rotate(3 527.7 201)"/>
<text class="g" x="527.5" y="206" font-size="21" text-anchor="middle">γ</text>
<text class="g" x="516.5" y="250.5" font-size="24" text-anchor="middle">β</text>
<text class="g" x="533" y="277.5" font-size="24">α</text>
<text class="g" x="550.5" y="277.5" font-size="23">i</text>
<ellipse cx="676.7" cy="140.3" rx="35.8" ry="69.2" fill="url(#gAc)"/>
<g fill="url(#gCa)">
<ellipse cx="172.6" cy="139.2" rx="35" ry="8.8" transform="rotate(-7 172.6 139.2)"/>
<ellipse cx="177.6" cy="190.0" rx="35" ry="11.6" transform="rotate(-6 177.6 190.0)"/>
<path d="M137.8,143.3 L207.4,135.0 L212.4,186.2 L142.8,193.8 Z"/>
</g>
<ellipse cx="170.6" cy="137.6" rx="21.6" ry="4.7" fill="url(#gPore)" transform="rotate(-7 170.6 137.6)"/>
<path d="M286.4,111.9 C306,111.5 321.3,127 321.2,149 C321,172 303.5,196.6 285,196.6 C267.5,196.6 254.5,168 254.6,144.5 C254.7,125 268.5,112.2 286.4,111.9 Z" fill="url(#gGirk)"/>
<ellipse cx="285.5" cy="117.4" rx="13.2" ry="4.2" fill="url(#gPore2)" transform="rotate(-5 285.5 117.4)"/>
<ellipse cx="150.3" cy="356.2" rx="36.8" ry="29.4" fill="url(#gCy)"/>
<text class="r" x="130.7" y="362.0" textLength="36.3" lengthAdjust="spacingAndGlyphs">PI3K</text>
<ellipse cx="268.7" cy="334.2" rx="36.7" ry="28.7" fill="url(#gCy)"/>
<text class="r" x="252.6" y="340.9" textLength="32.4" lengthAdjust="spacingAndGlyphs">PLC</text>
<ellipse cx="384.9" cy="509.5" rx="36.9" ry="29.3" fill="url(#gCy)"/>
<text class="r" x="368.4" y="514.7" textLength="33.5" lengthAdjust="spacingAndGlyphs">ERK</text>
<ellipse cx="706.7" cy="327.0" rx="37.1" ry="29.3" fill="url(#gCy)"/>
<text class="r" x="689.8" y="334.0" textLength="32.4" lengthAdjust="spacingAndGlyphs">ATP</text>
<ellipse cx="937.6" cy="386.6" rx="36.9" ry="29.5" fill="url(#gCy)"/>
<text class="r" x="920.2" y="393.6" textLength="37.9" lengthAdjust="spacingAndGlyphs">AMP</text>
<ellipse cx="968.2" cy="239.5" rx="36.7" ry="29.2" fill="url(#gPde)"/>
<text class="r" x="951.9" y="246.6" textLength="33.2" lengthAdjust="spacingAndGlyphs">PDE</text>
<ellipse cx="833.7" cy="300.4" rx="58.7" ry="29.4" fill="url(#gCamp)"/>
<text class="r" x="812.0" y="307.3" textLength="46.7" lengthAdjust="spacingAndGlyphs">cAMP</text>
<text class="b" x="359.5" y="48.2" textLength="112.4" lengthAdjust="spacingAndGlyphs">NPY receptor</text>
<text class="b" x="510.3" y="32.4" textLength="33.6" lengthAdjust="spacingAndGlyphs">NPY</text>
<text class="b" x="510.3" y="53.6" textLength="32.6" lengthAdjust="spacingAndGlyphs">PYY</text>
<text class="b" x="510.3" y="74.6" textLength="21.6" lengthAdjust="spacingAndGlyphs">PP</text>
<text class="b" x="263.8" y="79.6" textLength="43.8" lengthAdjust="spacingAndGlyphs">GIRK</text>
<text class="b" x="252.7" y="100.9" textLength="65.5" lengthAdjust="spacingAndGlyphs">channel</text>
<text class="b" x="150.2" y="93.7"><tspan textLength="21.8" lengthAdjust="spacingAndGlyphs">Ca</tspan><tspan dy="-5.5" font-size="12.5">++</tspan></text>
<text class="b" x="135.8" y="115.5" textLength="65.1" lengthAdjust="spacingAndGlyphs">channel</text>
<text class="b" x="639.8" y="36.7" textLength="70.8" lengthAdjust="spacingAndGlyphs">Adenylyl</text>
<text class="b" x="643.6" y="56.8" textLength="62.4" lengthAdjust="spacingAndGlyphs">cyclase</text>
<text class="b" x="613.2" y="526.4" textLength="216.0" lengthAdjust="spacingAndGlyphs">Transcriptional regulation</text>
<text x="481.9" y="350.7" font-size="22">GDP</text>
<text x="565.6" y="350.7" font-size="22">GTP</text>
</svg></body></html>
